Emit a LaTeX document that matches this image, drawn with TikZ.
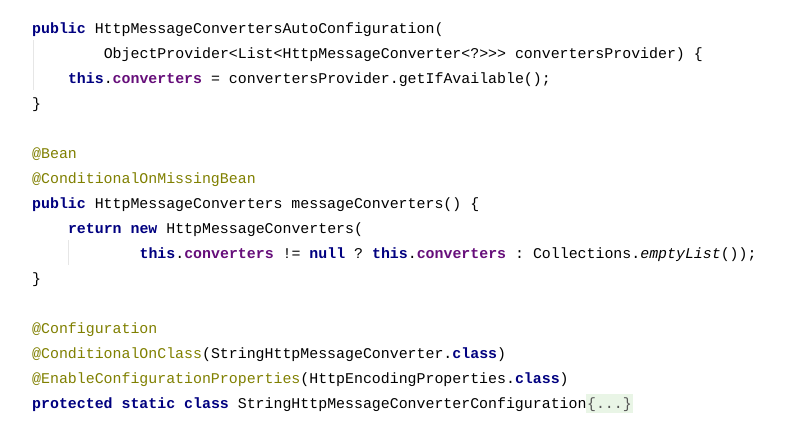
\documentclass[tikz,border=0pt]{standalone}
\usepackage{fontspec}
\setmonofont{Liberation Mono}
\definecolor{kw}{HTML}{000080}
\definecolor{fld}{HTML}{660E7A}
\definecolor{ann}{HTML}{808000}
\definecolor{guide}{HTML}{E6E6E6}
\definecolor{foldbg}{HTML}{E9F5E6}
\definecolor{foldtx}{HTML}{555555}
\newcommand\K[1]{\textcolor{kw}{\bfseries #1}}
\newcommand\F[1]{\textcolor{fld}{\bfseries #1}}
\newcommand\A[1]{\textcolor{ann}{#1}}
\newcommand\codeline[4]{\node[code] (#1) at ({32+8.95*#2},{-(33+25*#3)}) {#4};}
\tikzset{code/.style={anchor=base west,inner sep=0pt,font=\ttfamily\fontsize{14.9}{15}\selectfont,text=black}}
\begin{document}
\begin{tikzpicture}[x=1pt,y=1pt]
\useasboundingbox[fill=white] (0,0) rectangle (798,-431);
\draw[guide,line width=0.8] (33,-40) -- (33,-90);
\draw[guide,line width=0.8] (68,-240) -- (68,-265);
\codeline{l0}{0}{0}{\K{public} HttpMessageConvertersAutoConfiguration(}
\codeline{l1}{8}{1}{ObjectProvider<List<HttpMessageConverter<?>>> convertersProvider) \{}
\codeline{l2}{4}{2}{\K{this}.\F{converters} = convertersProvider.getIfAvailable();}
\codeline{l3}{0}{3}{\}}
\codeline{l5}{0}{5}{\A{@Bean}}
\codeline{l6}{0}{6}{\A{@ConditionalOnMissingBean}}
\codeline{l7}{0}{7}{\K{public} HttpMessageConverters messageConverters() \{}
\codeline{l8}{4}{8}{\K{return} \K{new} HttpMessageConverters(}
\codeline{l9}{12}{9}{\K{this}.\F{converters} != \K{null} ? \K{this}.\F{converters} : Collections.\textit{emptyList}());}
\codeline{l10}{0}{10}{\}}
\codeline{l12}{0}{12}{\A{@Configuration}}
\codeline{l13}{0}{13}{\A{@ConditionalOnClass}(StringHttpMessageConverter.\K{class})}
\codeline{l14}{0}{14}{\A{@EnableConfigurationProperties}(HttpEncodingProperties.\K{class})}
\codeline{l15}{0}{15}{\K{protected} \K{static} \K{class} StringHttpMessageConverterConfiguration}
\node[code,anchor=base west,fill=foldbg,text=foldtx,inner xsep=1.5pt,inner ysep=0pt,text height=14pt,text depth=5pt] (fold) at ({32+8.95*62-1.5},{-(33+25*15)}) {\{...\}};
\end{tikzpicture}
\end{document}
